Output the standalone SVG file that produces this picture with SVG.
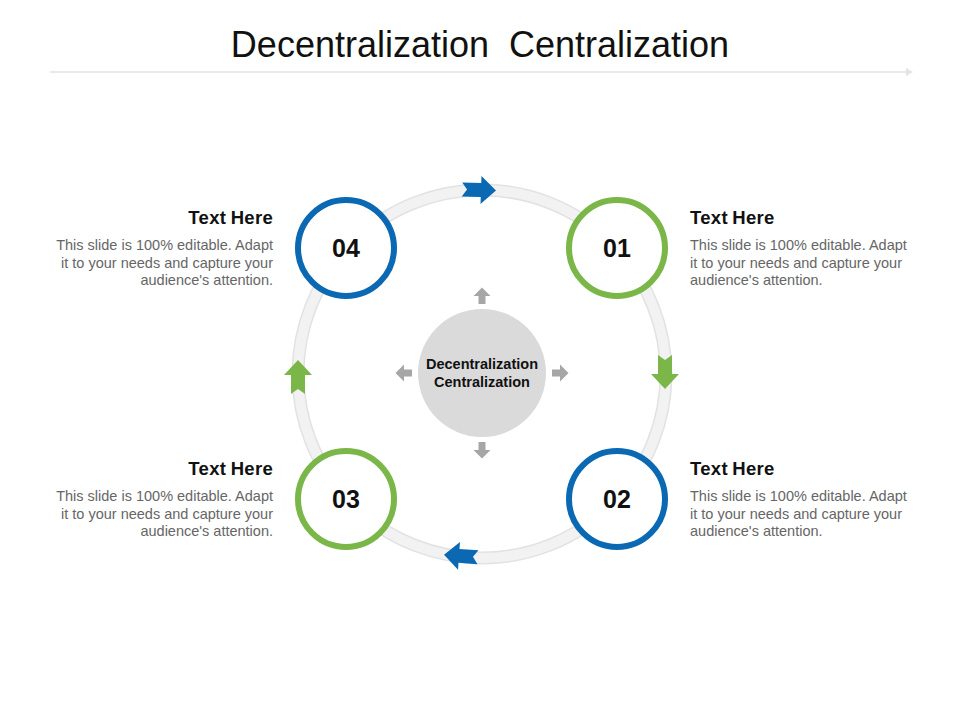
<svg xmlns="http://www.w3.org/2000/svg" width="960" height="720" viewBox="0 0 960 720">
<style>
.title{font-family:"Liberation Sans",Arial,sans-serif;font-size:36px;fill:#111}
.head{font-family:"Liberation Sans",Arial,sans-serif;font-size:18.5px;font-weight:bold;fill:#111;letter-spacing:0.3px;word-spacing:-1px}
.body{font-family:"Liberation Sans",Arial,sans-serif;font-size:14.5px;fill:#666}
.num{font-family:"Liberation Sans",Arial,sans-serif;font-size:25px;font-weight:bold;fill:#111;text-anchor:middle}
.ctr{font-family:"Liberation Sans",Arial,sans-serif;font-size:14.5px;font-weight:bold;fill:#111;text-anchor:middle}
.blue{fill:#fff;stroke:#0B68B2;stroke-width:6}
.green{fill:#fff;stroke:#7AB648;stroke-width:6}
.gar{fill:#A6A6A6}
</style>
<defs>
<polygon id="bigarrow" points="-17,-7 2,-7 2,-14 17,0 2,14 2,7 -17,7 -12,0"/>
<polygon id="smallarrow" points="-8,-3.5 0,-3.5 0,-8.5 8.5,0 0,8.5 0,3.5 -8,3.5"/>
</defs>
<rect width="960" height="720" fill="#fff"/>
<text class="title" x="480" y="57" text-anchor="middle" xml:space="preserve">Decentralization  Centralization</text>
<g id="rule">
<line x1="50" y1="72" x2="907" y2="72" stroke="#E3E3E3" stroke-width="1.5"/>
<polygon points="906,68 913,72 906,76" fill="#E3E3E3"/>
</g>
<g id="ring">
<circle cx="482" cy="374" r="184" fill="none" stroke="#E2E2E2" stroke-width="13"/>
<circle cx="482" cy="374" r="184" fill="none" stroke="#F2F2F2" stroke-width="10"/>
</g>
<g id="connectors">
<use href="#bigarrow" transform="translate(479,190) rotate(2)" fill="#0B68B2"/>
<use href="#bigarrow" transform="translate(665,372) rotate(90)" fill="#7AB648"/>
<use href="#bigarrow" transform="translate(461,556) rotate(184)" fill="#0B68B2"/>
<use href="#bigarrow" transform="translate(298,377) rotate(-90)" fill="#7AB648"/>
<use href="#smallarrow" class="gar" transform="translate(482,296) rotate(-90)"/>
<use href="#smallarrow" class="gar" transform="translate(482,450) rotate(90)"/>
<use href="#smallarrow" class="gar" transform="translate(404,373) rotate(180)"/>
<use href="#smallarrow" class="gar" transform="translate(560,373)"/>
</g>
<g id="center">
<circle cx="482" cy="373" r="64" fill="#DADADA"/>
<text class="ctr" x="482" y="369">Decentralization</text>
<text class="ctr" x="482" y="387">Centralization</text>
</g>
<g id="node01">
<circle cx="617" cy="248" r="48" class="green"/>
<text class="num" x="617" y="257">01</text>
</g>
<g id="node02">
<circle cx="617" cy="499" r="48" class="blue"/>
<text class="num" x="617" y="508">02</text>
</g>
<g id="node03">
<circle cx="346" cy="499" r="48" class="green"/>
<text class="num" x="346" y="508">03</text>
</g>
<g id="node04">
<circle cx="346" cy="248" r="48" class="blue"/>
<text class="num" x="346" y="257">04</text>
</g>
<g id="text01">
<text class="head" x="690" y="224">Text Here</text>
<text class="body" x="690" y="250">This slide is 100% editable. Adapt</text>
<text class="body" x="690" y="268">it to your needs and capture your</text>
<text class="body" x="690" y="285">audience's attention.</text>
</g>
<g id="text02">
<text class="head" x="690" y="475">Text Here</text>
<text class="body" x="690" y="501">This slide is 100% editable. Adapt</text>
<text class="body" x="690" y="519">it to your needs and capture your</text>
<text class="body" x="690" y="536">audience's attention.</text>
</g>
<g id="text04" text-anchor="end">
<text class="head" x="273" y="224">Text Here</text>
<text class="body" x="273" y="250">This slide is 100% editable. Adapt</text>
<text class="body" x="273" y="268">it to your needs and capture your</text>
<text class="body" x="273" y="285">audience's attention.</text>
</g>
<g id="text03" text-anchor="end">
<text class="head" x="273" y="475">Text Here</text>
<text class="body" x="273" y="501">This slide is 100% editable. Adapt</text>
<text class="body" x="273" y="519">it to your needs and capture your</text>
<text class="body" x="273" y="536">audience's attention.</text>
</g>
</svg>
